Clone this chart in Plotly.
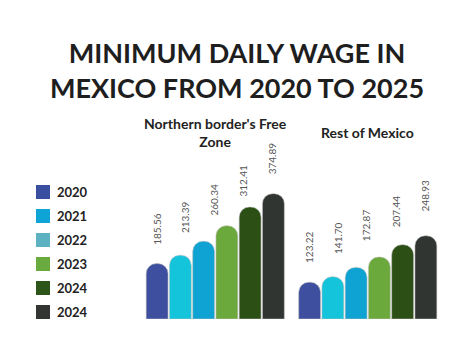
import plotly.graph_objects as go

regions = ["Northern border's Free Zone", "Rest of Mexico"]
region_titles = ["Northern border's Free<br>Zone", "Rest of Mexico"]
years = ["2020", "2021", "2022", "2023", "2024", "2025"]
legend_labels = ["2020", "2021", "2022", "2023", "2024", "2024"]
northern = [185.56, 213.39, 260.34, 312.41, 374.89, 419.88]
rest = [123.22, 141.70, 172.87, 207.44, 248.93, 278.80]
label_northern = ["185.56", "213.39", "260.34", "312.41", "374.89"]
label_rest = ["123.22", "141.70", "172.87", "207.44", "248.93"]
title = "MINIMUM DAILY WAGE IN<br>MEXICO FROM 2020 TO 2025"

bar_colors = ["#3d4f9e", "#14c4db", "#0ea3d2", "#6ca93d", "#2b4f15", "#303531"]
legend_colors = ["#3b4fa1", "#0ea4d6", "#5cb2c1", "#6aab3f", "#2d5419", "#333533"]

# page has an 8px body margin, so the figure is drawn 8px in from the window edge
OFF = 8
W, H = 474 - OFF, 355 - OFF
ml, mr, mt, mb = 131, 30, 117, 36
pw, ph = W - ml - mr, H - mt - mb

def px(x):
    return (x - OFF - ml) / pw

def py(y):
    return (H - mb - (y - OFF)) / ph

fig = go.Figure()
for i, yr in enumerate(years):
    fig.add_trace(go.Bar(
        x=regions, y=[northern[i], rest[i]], name=yr,
        marker=dict(color=bar_colors[i], line=dict(width=0.8, color="rgba(190,190,190,0.7)")),
        showlegend=False, hoverinfo="y"))

annotations = []
for vals, labels, reg in [(northern, label_northern, regions[0]), (rest, label_rest, regions[1])]:
    for i, lab in enumerate(labels):
        annotations.append(dict(
            x=reg, y=vals[i], xref="x", yref="y", text=lab, showarrow=False,
            textangle=-90, xanchor="center", yanchor="bottom",
            xshift=(i - 2) * 29 - 1, yshift=17 + 3.5 * i,
            font=dict(family="Lato, Open Sans, sans-serif", size=10, color="#555555")))

for reg, t in zip(regions, region_titles):
    annotations.append(dict(
        x=reg, y=py(132), xref="x", yref="paper", text=t, showarrow=False,
        xanchor="center", yanchor="middle",
        font=dict(family="Lato, sans-serif", size=14, color="#222222", weight="bold")))

shapes = []
for i, (lab, col) in enumerate(zip(legend_labels, legend_colors)):
    cy = 192 + i * 24
    shapes.append(dict(type="rect", xref="paper", yref="paper",
                       x0=px(36), x1=px(50), y0=py(cy + 7), y1=py(cy - 7),
                       fillcolor=col, line=dict(width=0)))
    annotations.append(dict(x=px(55), y=py(cy), xref="paper", yref="paper", text=lab,
                            showarrow=False, xanchor="left", yanchor="middle",
                            font=dict(family="Lato, sans-serif", size=13, color="#222222", weight="bold")))

fig.update_layout(
    width=W, height=H,
    margin=dict(l=ml, r=mr, t=mt, b=mb),
    paper_bgcolor="white", plot_bgcolor="white",
    title=dict(text=title, x=0.5 * 474 / W - OFF / W, xref="container", xanchor="center",
               y=1 - (63 - OFF) / H, yref="container", yanchor="top",
               font=dict(family="Lato, sans-serif", size=27, color="#1e1e1e", weight="bold")),
    barmode="group", bargap=0.085, bargroupgap=0.06, barcornerradius=10,
    xaxis=dict(showticklabels=False, ticks="", showgrid=False, zeroline=False, showline=False),
    yaxis=dict(range=[0, 650], visible=False),
    annotations=annotations, shapes=shapes, showlegend=False,
)

fig.write_html("out.html")
